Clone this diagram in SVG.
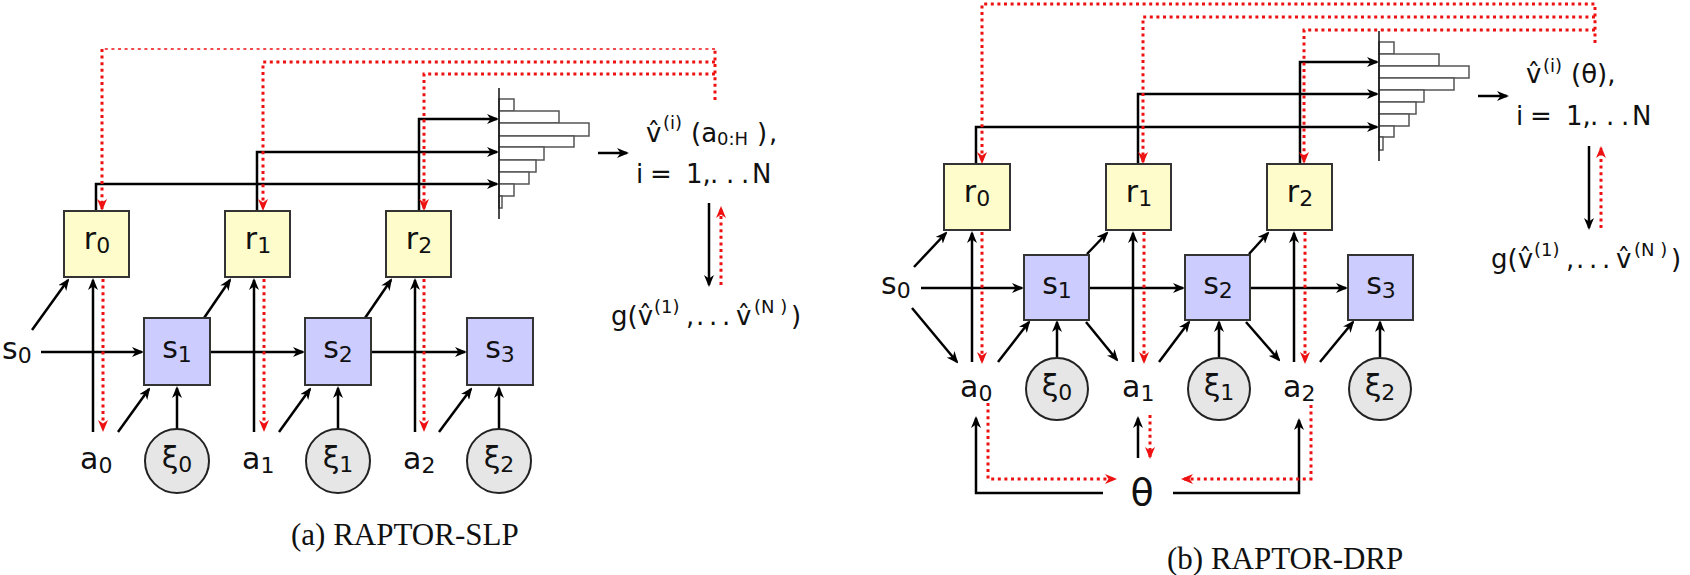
<svg xmlns="http://www.w3.org/2000/svg" width="1690" height="575" viewBox="0 0 1690 575">
<style>
.bg{fill:#fff}
.rbox{fill:#FFFCCC;stroke:#333;stroke-width:2}
.sbox{fill:#CCCCFF;stroke:#333;stroke-width:2}
.xi{fill:#E6E6E6;stroke:#222;stroke-width:2}
.lbl{font-family:"DejaVu Sans","Noto Sans",sans-serif;font-size:30px;fill:#111}
.sub{font-size:22px}
.f{font-family:"DejaVu Sans","Noto Sans",sans-serif;font-size:26px;fill:#111}
.sup{font-size:18px}
.cap{font-family:"Liberation Serif","Times New Roman",serif;font-size:31px;fill:#111}
.bk{fill:none;stroke:#000;stroke-width:2.5}
.bka{fill:none;stroke:#000;stroke-width:2.5;marker-end:url(#ab)}
.rd{fill:none;stroke:#EE1111;stroke-width:3;stroke-dasharray:3 3.6}
.rdt{fill:none;stroke:#EE1111;stroke-width:1.6;stroke-dasharray:3 3.6}
.rda{fill:none;stroke:#EE1111;stroke-width:3;stroke-dasharray:3 3.6;marker-end:url(#ar)}
.bar{fill:#fff;stroke:#555;stroke-width:1.5}
.axis{fill:none;stroke:#111;stroke-width:1.5}
</style>
<defs>
<marker id="ab" viewBox="0 0 12 10" refX="10" refY="5" markerWidth="12" markerHeight="10" markerUnits="userSpaceOnUse" orient="auto"><path d="M0,0 L12,5 L0,10 L3.5,5 z" fill="#000"/></marker>
<marker id="ar" viewBox="0 0 12 10" refX="10" refY="5" markerWidth="12" markerHeight="10" markerUnits="userSpaceOnUse" orient="auto"><path d="M0,0 L12,5 L0,10 L3.5,5 z" fill="#EE1111"/></marker>
</defs>
<rect class="bg" x="0" y="0" width="1690" height="575"/>

<!-- ===== LEFT: RAPTOR-SLP ===== -->
<g id="connectors-a">
  <path class="bka" d="M41,352 H142"/>
  <path class="bka" d="M210,352 H303"/>
  <path class="bka" d="M371,352 H465"/>
  <path class="bka" d="M32,330 L68,280"/>
  <path class="bka" d="M204,318 L230,280"/>
  <path class="bka" d="M365,318 L391,280"/>
  <path class="bka" d="M93,432 V280"/>
  <path class="bka" d="M254,432 V280"/>
  <path class="bka" d="M415,432 V280"/>
  <path class="rda" d="M103,279 V430"/>
  <path class="rda" d="M264,279 V430"/>
  <path class="rda" d="M424,279 V430"/>
  <path class="bka" d="M118,432 L149,389"/>
  <path class="bka" d="M279,432 L310,389"/>
  <path class="bka" d="M439,432 L471,389"/>
  <path class="bka" d="M177,429 V388"/>
  <path class="bka" d="M338,429 V388"/>
  <path class="bka" d="M499,429 V388"/>
  <path class="bka" d="M96,211 V184 H497"/>
  <path class="bka" d="M257,211 V152 H497"/>
  <path class="bka" d="M419,211 V119 H497"/>
  <path class="rdt" d="M715,49 H102"/>
  <path class="rd" d="M715,100 V49"/>
  <path class="rda" d="M102,49 V209"/>
  <path class="rda" d="M715,62 H263 V209"/>
  <path class="rda" d="M715,74 H424 V209"/>
  <path class="bka" d="M598,153 H627"/>
  <path class="bka" d="M709,203 V285"/>
  <path class="rda" d="M721,285 V208"/>
</g>
<g id="hist-a">
  <rect class="bar" x="499" y="99" width="15" height="12"/>
  <rect class="bar" x="499" y="111" width="60" height="12"/>
  <rect class="bar" x="499" y="123" width="90" height="13"/>
  <rect class="bar" x="499" y="136" width="75" height="11"/>
  <rect class="bar" x="499" y="147" width="45" height="13"/>
  <rect class="bar" x="499" y="160" width="37" height="12"/>
  <rect class="bar" x="499" y="172" width="30" height="12"/>
  <rect class="bar" x="499" y="184" width="15" height="12"/>
  <rect class="bar" x="499" y="196" width="3" height="12"/>
  <path class="axis" d="M499,88 V219"/>
</g>
<g id="r0a"><rect class="rbox" x="64" y="211" width="65" height="66"/><text class="lbl" x="97" y="249" text-anchor="middle">r<tspan class="sub" dy="4">0</tspan></text></g>
<g id="r1a"><rect class="rbox" x="225" y="211" width="65" height="66"/><text class="lbl" x="258" y="249" text-anchor="middle">r<tspan class="sub" dy="4">1</tspan></text></g>
<g id="r2a"><rect class="rbox" x="386" y="211" width="65" height="66"/><text class="lbl" x="419" y="249" text-anchor="middle">r<tspan class="sub" dy="4">2</tspan></text></g>
<g id="s1a"><rect class="sbox" x="144" y="318" width="66" height="67"/><text class="lbl" x="177" y="358" text-anchor="middle">s<tspan class="sub" dy="4">1</tspan></text></g>
<g id="s2a"><rect class="sbox" x="305" y="318" width="66" height="67"/><text class="lbl" x="338" y="358" text-anchor="middle">s<tspan class="sub" dy="4">2</tspan></text></g>
<g id="s3a"><rect class="sbox" x="467" y="318" width="66" height="67"/><text class="lbl" x="500" y="358" text-anchor="middle">s<tspan class="sub" dy="4">3</tspan></text></g>
<g id="xi0a"><circle class="xi" cx="177" cy="461" r="32"/><text class="lbl" x="177" y="468" text-anchor="middle">ξ<tspan class="sub" dy="4">0</tspan></text></g>
<g id="xi1a"><circle class="xi" cx="338" cy="461" r="32"/><text class="lbl" x="338" y="468" text-anchor="middle">ξ<tspan class="sub" dy="4">1</tspan></text></g>
<g id="xi2a"><circle class="xi" cx="499" cy="461" r="32"/><text class="lbl" x="499" y="468" text-anchor="middle">ξ<tspan class="sub" dy="4">2</tspan></text></g>
<g id="s0a"><text class="lbl" x="2" y="359">s<tspan class="sub" dy="4">0</tspan></text></g>
<g id="a0a"><text class="lbl" x="80" y="469">a<tspan class="sub" dy="4">0</tspan></text></g>
<g id="a1a"><text class="lbl" x="242" y="469">a<tspan class="sub" dy="4">1</tspan></text></g>
<g id="a2a"><text class="lbl" x="403" y="469">a<tspan class="sub" dy="4">2</tspan></text></g>
<g id="vhat-a"><text class="f"><tspan x="646" y="142">v̂</tspan><tspan class="sup" x="663" y="129">(i)</tspan><tspan x="691" y="142">(a</tspan><tspan class="sup" x="717" y="145">0:H</tspan><tspan x="757" y="142">)</tspan><tspan x="769" y="142">,</tspan></text>
<text class="f"><tspan x="636" y="183">i</tspan><tspan x="650" y="183">=</tspan><tspan x="686" y="183">1,</tspan><tspan x="710" y="183">.</tspan><tspan x="726" y="183">.</tspan><tspan x="741" y="183">.</tspan><tspan x="752" y="183">N</tspan></text></g>
<g id="g-a"><text class="f"><tspan x="611" y="325">g(v̂</tspan><tspan class="sup" x="654" y="313">(1)</tspan><tspan x="686" y="325">,</tspan><tspan x="696" y="325">.</tspan><tspan x="709" y="325">.</tspan><tspan x="722" y="325">.</tspan><tspan x="736" y="325">v̂</tspan><tspan class="sup" x="754" y="313">(N )</tspan><tspan x="791" y="325">)</tspan></text></g>
<text class="cap" x="291" y="545">(a) RAPTOR-SLP</text>

<!-- ===== RIGHT: RAPTOR-DRP ===== -->
<g id="connectors-b">
  <path class="bka" d="M921,288 H1022"/>
  <path class="bka" d="M1089,288 H1183"/>
  <path class="bka" d="M1250,288 H1346"/>
  <path class="bka" d="M914,267 L946,233"/>
  <path class="bka" d="M912,308 L957,362"/>
  <path class="bka" d="M972,362 V233"/>
  <path class="rda" d="M982,232 V362"/>
  <path class="bka" d="M998,362 L1029,322"/>
  <path class="bka" d="M1057,357 V322"/>
  <path class="bka" d="M1086,322 L1117,360"/>
  <path class="bka" d="M1087,254 L1107,233"/>
  <path class="bka" d="M1133,362 V233"/>
  <path class="rda" d="M1144,232 V362"/>
  <path class="bka" d="M1159,362 L1189,322"/>
  <path class="bka" d="M1219,357 V322"/>
  <path class="bka" d="M1246,322 L1279,360"/>
  <path class="bka" d="M1249,254 L1268,233"/>
  <path class="bka" d="M1294,362 V233"/>
  <path class="rda" d="M1305,232 V362"/>
  <path class="bka" d="M1320,362 L1353,322"/>
  <path class="bka" d="M1380,357 V322"/>
  <path class="bka" d="M976,164 V127 H1377"/>
  <path class="bka" d="M1138,164 V94 H1377"/>
  <path class="bka" d="M1300,164 V62 H1377"/>
  <path class="rda" d="M1595,43 V4 H982 V162"/>
  <path class="rda" d="M1595,17 H1143 V162"/>
  <path class="rda" d="M1595,30 H1304 V162"/>
  <path class="bka" d="M1478,96 H1507"/>
  <path class="bka" d="M1589,146 V228"/>
  <path class="rda" d="M1601,228 V148"/>
  <path class="bka" d="M1103,493 H976 V418"/>
  <path class="rda" d="M988,403 V479 H1115"/>
  <path class="bka" d="M1138,458 V418"/>
  <path class="rda" d="M1150,415 V457"/>
  <path class="bka" d="M1173,493 H1299 V420"/>
  <path class="rda" d="M1311,405 V479 H1183"/>
</g>
<g id="hist-b">
  <rect class="bar" x="1379" y="42" width="15" height="12"/>
  <rect class="bar" x="1379" y="54" width="60" height="12"/>
  <rect class="bar" x="1379" y="66" width="90" height="12"/>
  <rect class="bar" x="1379" y="78" width="75" height="12"/>
  <rect class="bar" x="1379" y="90" width="45" height="12"/>
  <rect class="bar" x="1379" y="102" width="37" height="12"/>
  <rect class="bar" x="1379" y="114" width="30" height="12"/>
  <rect class="bar" x="1379" y="126" width="15" height="11"/>
  <rect class="bar" x="1379" y="137" width="4" height="13"/>
  <path class="axis" d="M1379,31 V161"/>
</g>
<g id="r0b"><rect class="rbox" x="944" y="164" width="66" height="66"/><text class="lbl" x="977" y="202" text-anchor="middle">r<tspan class="sub" dy="4">0</tspan></text></g>
<g id="r1b"><rect class="rbox" x="1106" y="164" width="65" height="66"/><text class="lbl" x="1139" y="202" text-anchor="middle">r<tspan class="sub" dy="4">1</tspan></text></g>
<g id="r2b"><rect class="rbox" x="1267" y="164" width="65" height="66"/><text class="lbl" x="1300" y="202" text-anchor="middle">r<tspan class="sub" dy="4">2</tspan></text></g>
<g id="s1b"><rect class="sbox" x="1024" y="255" width="65" height="65"/><text class="lbl" x="1057" y="294" text-anchor="middle">s<tspan class="sub" dy="4">1</tspan></text></g>
<g id="s2b"><rect class="sbox" x="1185" y="255" width="65" height="65"/><text class="lbl" x="1218" y="294" text-anchor="middle">s<tspan class="sub" dy="4">2</tspan></text></g>
<g id="s3b"><rect class="sbox" x="1348" y="255" width="65" height="65"/><text class="lbl" x="1381" y="294" text-anchor="middle">s<tspan class="sub" dy="4">3</tspan></text></g>
<g id="xi0b"><circle class="xi" cx="1057" cy="389" r="31"/><text class="lbl" x="1057" y="396" text-anchor="middle">ξ<tspan class="sub" dy="4">0</tspan></text></g>
<g id="xi1b"><circle class="xi" cx="1219" cy="389" r="31"/><text class="lbl" x="1219" y="396" text-anchor="middle">ξ<tspan class="sub" dy="4">1</tspan></text></g>
<g id="xi2b"><circle class="xi" cx="1380" cy="389" r="31"/><text class="lbl" x="1380" y="396" text-anchor="middle">ξ<tspan class="sub" dy="4">2</tspan></text></g>
<g id="s0b"><text class="lbl" x="881" y="294">s<tspan class="sub" dy="4">0</tspan></text></g>
<g id="a0b"><text class="lbl" x="960" y="397">a<tspan class="sub" dy="4">0</tspan></text></g>
<g id="a1b"><text class="lbl" x="1122" y="397">a<tspan class="sub" dy="4">1</tspan></text></g>
<g id="a2b"><text class="lbl" x="1283" y="397">a<tspan class="sub" dy="4">2</tspan></text></g>
<g id="theta"><text class="lbl" x="1142" y="505" text-anchor="middle" style="font-size:38px">θ</text></g>
<g id="vhat-b"><text class="f"><tspan x="1526" y="83">v̂</tspan><tspan class="sup" x="1543" y="72">(i)</tspan><tspan x="1571" y="83">(θ),</tspan></text>
<text class="f"><tspan x="1516" y="125">i</tspan><tspan x="1530" y="125">=</tspan><tspan x="1566" y="125">1,</tspan><tspan x="1590" y="125">.</tspan><tspan x="1606" y="125">.</tspan><tspan x="1621" y="125">.</tspan><tspan x="1632" y="125">N</tspan></text></g>
<g id="g-b"><text class="f"><tspan x="1491" y="268">g(v̂</tspan><tspan class="sup" x="1534" y="256">(1)</tspan><tspan x="1566" y="268">,</tspan><tspan x="1576" y="268">.</tspan><tspan x="1589" y="268">.</tspan><tspan x="1602" y="268">.</tspan><tspan x="1616" y="268">v̂</tspan><tspan class="sup" x="1634" y="256">(N )</tspan><tspan x="1671" y="268">)</tspan></text></g>
<text class="cap" x="1167" y="569">(b) RAPTOR-DRP</text>
</svg>
